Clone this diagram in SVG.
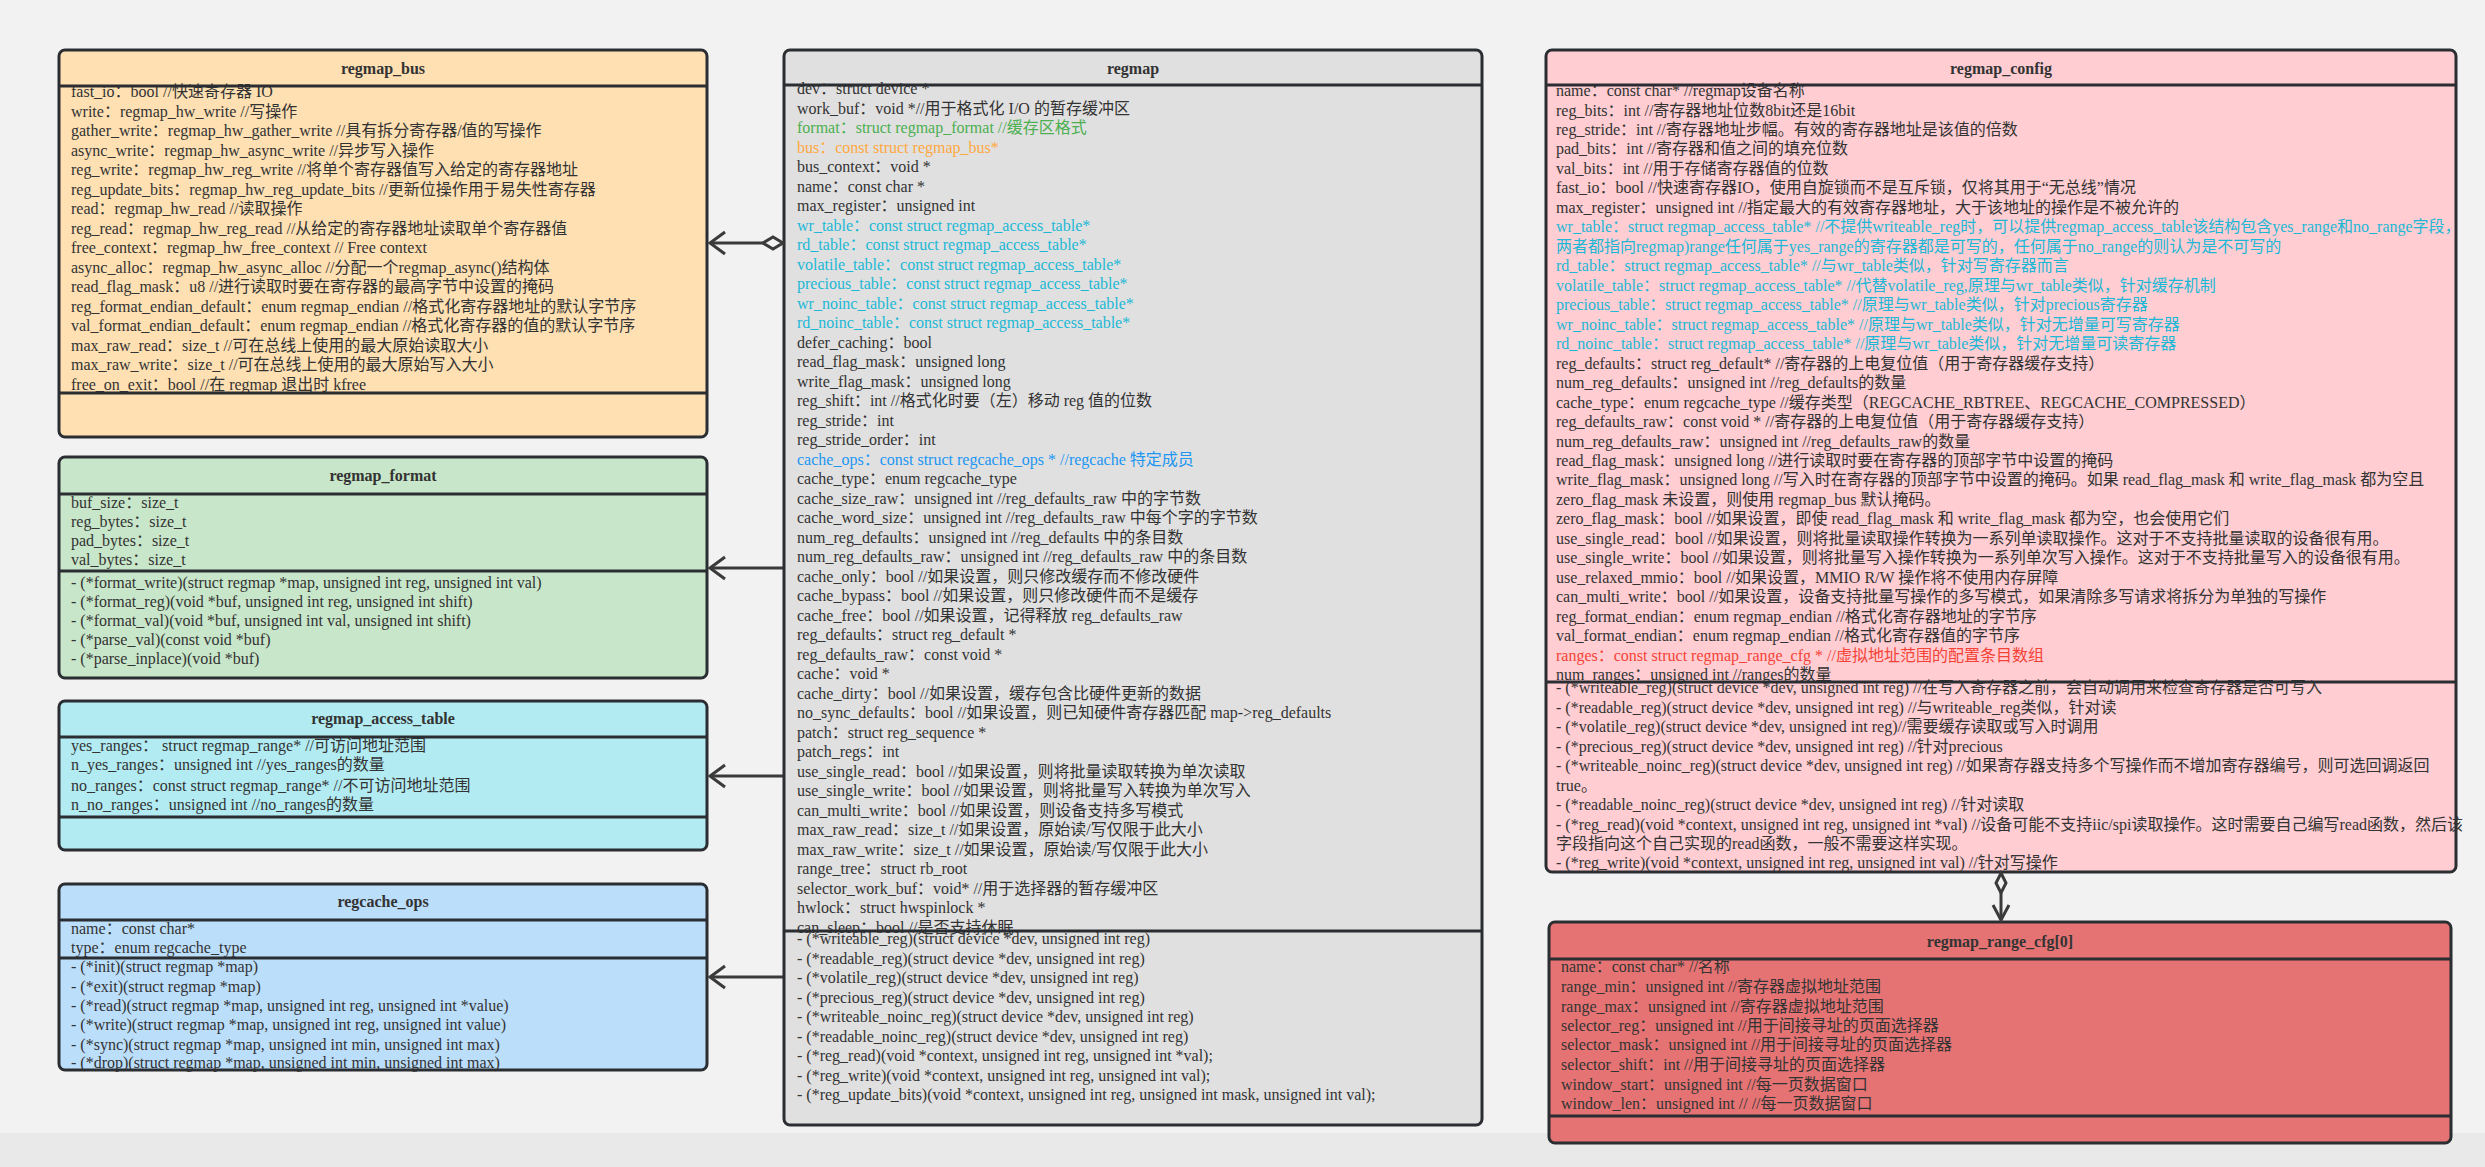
<svg xmlns="http://www.w3.org/2000/svg" width="2485" height="1167" viewBox="0 0 2485 1167">
<style>
text{font-family:"Liberation Serif","Noto Sans CJK SC",serif;font-size:16px;fill:#333}
.ti{font-weight:bold;text-anchor:middle}
.box{stroke:#2a2d31;stroke-width:3}
.ln{stroke:#2a2d31;stroke-width:3}
.cy{fill:#1cb8d6}.gr{fill:#4caf50}.or{fill:#ffa840}.bl{fill:#2196f3}.rd{fill:#f44336}
.con{stroke:#3a3a3a;stroke-width:3;fill:none}
</style>
<rect width="2485" height="1167" fill="#f2f2f2"/>
<rect y="1133" width="2485" height="34" fill="#e9e9e9"/>

<g id="regmap_bus">
<rect class="box" x="59" y="50" width="648" height="387" rx="6" fill="#ffe0b2"/>
<text class="ti" x="383" y="74">regmap_bus</text>
<g transform="translate(71,0)">
<text y="97">fast_io：bool //快速寄存器 IO</text>
<text y="117">write：regmap_hw_write //写操作</text>
<text y="136">gather_write：regmap_hw_gather_write //具有拆分寄存器/值的写操作</text>
<text y="156">async_write：regmap_hw_async_write //异步写入操作</text>
<text y="175">reg_write：regmap_hw_reg_write //将单个寄存器值写入给定的寄存器地址</text>
<text y="195">reg_update_bits：regmap_hw_reg_update_bits //更新位操作用于易失性寄存器</text>
<text y="214">read：regmap_hw_read //读取操作</text>
<text y="234">reg_read：regmap_hw_reg_read //从给定的寄存器地址读取单个寄存器值</text>
<text y="253">free_context：regmap_hw_free_context // Free context</text>
<text y="273">async_alloc：regmap_hw_async_alloc //分配一个regmap_async()结构体</text>
<text y="292">read_flag_mask：u8 //进行读取时要在寄存器的最高字节中设置的掩码</text>
<text y="312">reg_format_endian_default：enum regmap_endian //格式化寄存器地址的默认字节序</text>
<text y="331">val_format_endian_default：enum regmap_endian //格式化寄存器的值的默认字节序</text>
<text y="351">max_raw_read：size_t //可在总线上使用的最大原始读取大小</text>
<text y="370">max_raw_write：size_t //可在总线上使用的最大原始写入大小</text>
<text y="390">free_on_exit：bool //在 regmap 退出时 kfree</text>
</g>
<line class="ln" x1="59" y1="86" x2="707" y2="86"/>
<line class="ln" x1="59" y1="393" x2="707" y2="393"/>
</g>

<g id="regmap_format">
<rect class="box" x="59" y="457" width="648" height="221" rx="6" fill="#c8e6c9"/>
<text class="ti" x="383" y="481">regmap_format</text>
<g transform="translate(71,0)">
<text y="508">buf_size：size_t</text>
<text y="527">reg_bytes：size_t</text>
<text y="546">pad_bytes：size_t</text>
<text y="565">val_bytes：size_t</text>
<text y="588">-  (*format_write)(struct regmap *map, unsigned int reg, unsigned int val)</text>
<text y="607">-  (*format_reg)(void *buf, unsigned int reg, unsigned int shift)</text>
<text y="626">- (*format_val)(void *buf, unsigned int val, unsigned int shift)</text>
<text y="645">- (*parse_val)(const void *buf)</text>
<text y="664">- (*parse_inplace)(void *buf)</text>
</g>
<line class="ln" x1="59" y1="494" x2="707" y2="494"/>
<line class="ln" x1="59" y1="571" x2="707" y2="571"/>
</g>

<g id="regmap_access_table">
<rect class="box" x="59" y="701" width="648" height="149" rx="6" fill="#b2ebf2"/>
<text class="ti" x="383" y="724">regmap_access_table</text>
<g transform="translate(71,0)">
<text y="751">yes_ranges： struct regmap_range* //可访问地址范围</text>
<text y="770">n_yes_ranges：unsigned int //yes_ranges的数量</text>
<text y="791">no_ranges：const struct regmap_range* //不可访问地址范围</text>
<text y="810">n_no_ranges：unsigned int //no_ranges的数量</text>
</g>
<line class="ln" x1="59" y1="737" x2="707" y2="737"/>
<line class="ln" x1="59" y1="817" x2="707" y2="817"/>
</g>

<g id="regcache_ops">
<rect class="box" x="59" y="884" width="648" height="186" rx="6" fill="#bbdefb"/>
<text class="ti" x="383" y="907">regcache_ops</text>
<g transform="translate(71,0)">
<text y="934">name：const char*</text>
<text y="953">type：enum regcache_type</text>
<text y="972">- (*init)(struct regmap *map)</text>
<text y="992">- (*exit)(struct regmap *map)</text>
<text y="1011">- (*read)(struct regmap *map, unsigned int reg, unsigned int *value)</text>
<text y="1030">- (*write)(struct regmap *map, unsigned int reg, unsigned int value)</text>
<text y="1050">- (*sync)(struct regmap *map, unsigned int min, unsigned int max)</text>
<text y="1068">- (*drop)(struct regmap *map, unsigned int min, unsigned int max)</text>
</g>
<line class="ln" x1="59" y1="920" x2="707" y2="920"/>
<line class="ln" x1="59" y1="958" x2="707" y2="958"/>
</g>

<g id="regmap">
<rect class="box" x="784" y="50" width="698" height="1075" rx="6" fill="#e0e0e0"/>
<text class="ti" x="1133" y="74">regmap</text>
<g transform="translate(797,0)">
<text y="94">dev：struct device *</text>
<text y="113.5">work_buf：void *//用于格式化 I/O 的暂存缓冲区</text>
<text y="133" class="gr">format：struct regmap_format  //缓存区格式</text>
<text y="152.5" class="or">bus：const struct regmap_bus*</text>
<text y="172">bus_context：void *</text>
<text y="191.5">name：const char *</text>
<text y="211">max_register：unsigned int</text>
<text y="230.5" class="cy">wr_table：const struct regmap_access_table*</text>
<text y="250" class="cy">rd_table：const struct regmap_access_table*</text>
<text y="269.5" class="cy">volatile_table：const struct regmap_access_table*</text>
<text y="289" class="cy">precious_table：const struct regmap_access_table*</text>
<text y="308.5" class="cy">wr_noinc_table：const struct regmap_access_table*</text>
<text y="328" class="cy">rd_noinc_table：const struct regmap_access_table*</text>
<text y="347.5">defer_caching：bool</text>
<text y="367">read_flag_mask：unsigned long</text>
<text y="386.5">write_flag_mask：unsigned long</text>
<text y="406">reg_shift：int //格式化时要（左）移动 reg 值的位数</text>
<text y="425.5">reg_stride：int</text>
<text y="445">reg_stride_order：int</text>
<text y="464.5" class="bl">cache_ops：const struct regcache_ops * //regcache 特定成员</text>
<text y="484">cache_type：enum regcache_type</text>
<text y="503.5">cache_size_raw：unsigned int //reg_defaults_raw 中的字节数</text>
<text y="523">cache_word_size：unsigned int //reg_defaults_raw 中每个字的字节数</text>
<text y="542.5">num_reg_defaults：unsigned int //reg_defaults 中的条目数</text>
<text y="562">num_reg_defaults_raw：unsigned int //reg_defaults_raw 中的条目数</text>
<text y="581.5">cache_only：bool //如果设置，则只修改缓存而不修改硬件</text>
<text y="601">cache_bypass：bool //如果设置，则只修改硬件而不是缓存</text>
<text y="620.5">cache_free：bool //如果设置，记得释放 reg_defaults_raw</text>
<text y="640">reg_defaults：struct reg_default *</text>
<text y="659.5">reg_defaults_raw：const void *</text>
<text y="679">cache：void *</text>
<text y="698.5">cache_dirty：bool //如果设置，缓存包含比硬件更新的数据</text>
<text y="718">no_sync_defaults：bool //如果设置，则已知硬件寄存器匹配 map-&gt;reg_defaults</text>
<text y="737.5">patch：struct reg_sequence *</text>
<text y="757">patch_regs：int</text>
<text y="776.5">use_single_read：bool //如果设置，则将批量读取转换为单次读取</text>
<text y="796">use_single_write：bool //如果设置，则将批量写入转换为单次写入</text>
<text y="815.5">can_multi_write：bool //如果设置，则设备支持多写模式</text>
<text y="835">max_raw_read：size_t //如果设置，原始读/写仅限于此大小</text>
<text y="854.5">max_raw_write：size_t //如果设置，原始读/写仅限于此大小</text>
<text y="874">range_tree：struct rb_root</text>
<text y="893.5">selector_work_buf：void* //用于选择器的暂存缓冲区</text>
<text y="913">hwlock：struct hwspinlock *</text>
<text y="932.5">can_sleep：bool //是否支持休眠</text>
<text y="944">- (*writeable_reg)(struct device *dev, unsigned int reg)</text>
<text y="963.5">- (*readable_reg)(struct device *dev, unsigned int reg)</text>
<text y="983">- (*volatile_reg)(struct device *dev, unsigned int reg)</text>
<text y="1002.5">- (*precious_reg)(struct device *dev, unsigned int reg)</text>
<text y="1022">- (*writeable_noinc_reg)(struct device *dev, unsigned int reg)</text>
<text y="1041.5">- (*readable_noinc_reg)(struct device *dev, unsigned int reg)</text>
<text y="1061">- (*reg_read)(void *context, unsigned int reg, unsigned int *val);</text>
<text y="1080.5">- (*reg_write)(void *context, unsigned int reg, unsigned int val);</text>
<text y="1100">- (*reg_update_bits)(void *context, unsigned int reg, unsigned int mask, unsigned int val);</text>
</g>
<line class="ln" x1="784" y1="85" x2="1482" y2="85"/>
<line class="ln" x1="784" y1="931" x2="1482" y2="931"/>
</g>

<g id="regmap_config">
<rect class="box" x="1546" y="50" width="910" height="822" rx="6" fill="#ffcdd2"/>
<text class="ti" x="2001" y="74">regmap_config</text>
<g transform="translate(1556,0)">
<text y="96">name：const char* //regmap设备名称</text>
<text y="115.5">reg_bits：int //寄存器地址位数8bit还是16bit</text>
<text y="135">reg_stride：int //寄存器地址步幅。有效的寄存器地址是该值的倍数</text>
<text y="154.4">pad_bits：int //寄存器和值之间的填充位数</text>
<text y="173.9">val_bits：int //用于存储寄存器值的位数</text>
<text y="193.4">fast_io：bool //快速寄存器IO，使用自旋锁而不是互斥锁，仅将其用于“无总线”情况</text>
<text y="212.8">max_register：unsigned int //指定最大的有效寄存器地址，大于该地址的操作是不被允许的</text>
<text y="232.3" class="cy">wr_table：struct regmap_access_table* //不提供writeable_reg时，可以提供regmap_access_table该结构包含yes_range和no_range字段，</text>
<text y="251.8" class="cy">两者都指向regmap)range任何属于yes_range的寄存器都是可写的，任何属于no_range的则认为是不可写的</text>
<text y="271.2" class="cy">rd_table：struct regmap_access_table* //与wr_table类似，针对写寄存器而言</text>
<text y="290.7" class="cy">volatile_table：struct regmap_access_table* //代替volatile_reg,原理与wr_table类似，针对缓存机制</text>
<text y="310.2" class="cy">precious_table：struct regmap_access_table* //原理与wr_table类似，针对precious寄存器</text>
<text y="329.6" class="cy">wr_noinc_table：struct regmap_access_table* //原理与wr_table类似，针对无增量可写寄存器</text>
<text y="349.1" class="cy">rd_noinc_table：struct regmap_access_table* //原理与wr_table类似，针对无增量可读寄存器</text>
<text y="368.6">reg_defaults：struct reg_default* //寄存器的上电复位值（用于寄存器缓存支持）</text>
<text y="388">num_reg_defaults：unsigned int //reg_defaults的数量</text>
<text y="407.5">cache_type：enum regcache_type //缓存类型（REGCACHE_RBTREE、REGCACHE_COMPRESSED）</text>
<text y="427">reg_defaults_raw：const void * //寄存器的上电复位值（用于寄存器缓存支持）</text>
<text y="446.5">num_reg_defaults_raw：unsigned int //reg_defaults_raw的数量</text>
<text y="465.9">read_flag_mask：unsigned long //进行读取时要在寄存器的顶部字节中设置的掩码</text>
<text y="485.4">write_flag_mask：unsigned long //写入时在寄存器的顶部字节中设置的掩码。如果 read_flag_mask 和 write_flag_mask 都为空且</text>
<text y="504.8">zero_flag_mask 未设置，则使用 regmap_bus 默认掩码。</text>
<text y="524.3">zero_flag_mask：bool //如果设置，即使 read_flag_mask 和 write_flag_mask 都为空，也会使用它们</text>
<text y="543.8">use_single_read：bool //如果设置，则将批量读取操作转换为一系列单读取操作。这对于不支持批量读取的设备很有用。</text>
<text y="563.2">use_single_write：bool //如果设置，则将批量写入操作转换为一系列单次写入操作。这对于不支持批量写入的设备很有用。</text>
<text y="582.7">use_relaxed_mmio：bool //如果设置，MMIO R/W 操作将不使用内存屏障</text>
<text y="602.2">can_multi_write：bool //如果设置，设备支持批量写操作的多写模式，如果清除多写请求将拆分为单独的写操作</text>
<text y="621.6">reg_format_endian：enum regmap_endian //格式化寄存器地址的字节序</text>
<text y="641.1">val_format_endian：enum regmap_endian //格式化寄存器值的字节序</text>
<text y="660.6" class="rd">ranges：const struct regmap_range_cfg * //虚拟地址范围的配置条目数组</text>
<text y="680">num_ranges：unsigned int //ranges的数量</text>
<text y="693">- (*writeable_reg)(struct device *dev, unsigned int reg) //在写入寄存器之前，会自动调用来检查寄存器是否可写入</text>
<text y="712.5">- (*readable_reg)(struct device *dev, unsigned int reg) //与writeable_reg类似，针对读</text>
<text y="732">- (*volatile_reg)(struct device *dev, unsigned int reg)//需要缓存读取或写入时调用</text>
<text y="751.5">- (*precious_reg)(struct device *dev, unsigned int reg) //针对precious</text>
<text y="771">- (*writeable_noinc_reg)(struct device *dev, unsigned int reg) //如果寄存器支持多个写操作而不增加寄存器编号，则可选回调返回</text>
<text y="790.5">true。</text>
<text y="810">- (*readable_noinc_reg)(struct device *dev, unsigned int reg) //针对读取</text>
<text y="829.5">- (*reg_read)(void *context, unsigned int reg, unsigned int *val) //设备可能不支持iic/spi读取操作。这时需要自己编写read函数，然后该</text>
<text y="849">字段指向这个自己实现的read函数，一般不需要这样实现。</text>
<text y="868">- (*reg_write)(void *context, unsigned int reg, unsigned int val) //针对写操作</text>
</g>
<line class="ln" x1="1546" y1="85" x2="2456" y2="85"/>
<line class="ln" x1="1546" y1="682" x2="2456" y2="682"/>
</g>

<g id="regmap_range_cfg">
<rect class="box" x="1549" y="922" width="902" height="221" rx="6" fill="#e57373"/>
<text class="ti" x="2000" y="947">regmap_range_cfg[0]</text>
<g transform="translate(1561,0)">
<text y="972">name：const char* //名称</text>
<text y="992">range_min：unsigned int //寄存器虚拟地址范围</text>
<text y="1012">range_max：unsigned int //寄存器虚拟地址范围</text>
<text y="1031">selector_reg：unsigned int //用于间接寻址的页面选择器</text>
<text y="1050">selector_mask：unsigned int //用于间接寻址的页面选择器</text>
<text y="1070">selector_shift：int //用于间接寻址的页面选择器</text>
<text y="1090">window_start：unsigned int //每一页数据窗口</text>
<text y="1109">window_len：unsigned int // //每一页数据窗口</text>
</g>
<line class="ln" x1="1549" y1="959" x2="2451" y2="959"/>
<line class="ln" x1="1549" y1="1116" x2="2451" y2="1116"/>
</g>

<g id="connectors">
<line class="con" x1="763" y1="243" x2="710" y2="243"/>
<path class="con" d="M725,232 L710,243 L725,254"/>
<path class="con" d="M783,243 L773,237 L763,243 L773,249 Z" style="fill:#f2f2f2"/>
<line class="con" x1="783" y1="568" x2="710" y2="568"/>
<path class="con" d="M725,557 L710,568 L725,579"/>
<line class="con" x1="783" y1="776" x2="710" y2="776"/>
<path class="con" d="M725,765 L710,776 L725,787"/>
<line class="con" x1="783" y1="977" x2="710" y2="977"/>
<path class="con" d="M725,966 L710,977 L725,988"/>
<line class="con" x1="2001" y1="893" x2="2001" y2="920"/>
<path class="con" d="M1993,905 L2001,920 L2009,905"/>
<path class="con" d="M2001,873 L2006,883 L2001,893 L1996,883 Z" style="fill:#f2f2f2"/>
</g>
</svg>
